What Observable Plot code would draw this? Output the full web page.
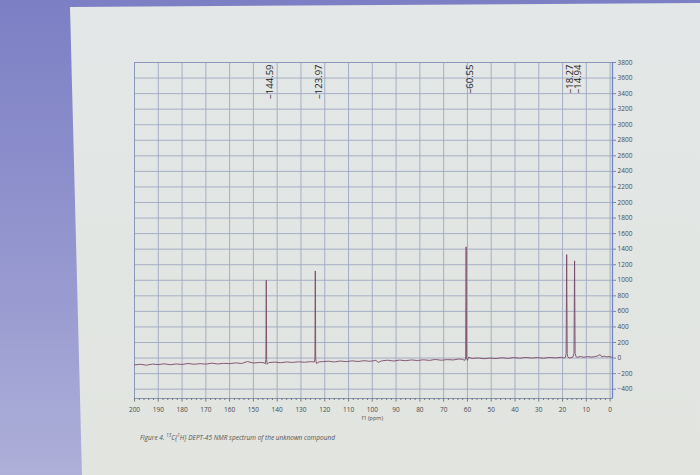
<!DOCTYPE html>
<html>
<head>
<meta charset="utf-8">
<script src="https://cdn.jsdelivr.net/npm/d3@7"></script>
<script src="https://cdn.jsdelivr.net/npm/@observablehq/plot@0.6"></script>
<style>
  html, body { margin: 0; padding: 0; width: 700px; height: 475px; overflow: hidden; }
  body { background: linear-gradient(180deg, #e3e7e7 0%, #e1e4df 100%); position: relative; font-family: "Open Sans", sans-serif; }
  #edge { position: absolute; left: 0; top: 0; width: 700px; height: 475px;
          background: linear-gradient(180deg, #7c7fc4 0%, #9597cf 55%, #aeb0d9 100%);
          clip-path: polygon(0 0, 700px 0, 700px 3px, 70px 7px, 82px 475px, 0 475px); }
  #chart { position: absolute; left: 0; top: 0; }
  #caption { position: absolute; left: 140px; top: 432px; font-size: 6.5px; font-style: italic; color: #555; font-family: "Open Sans", sans-serif; }
</style>
</head>
<body>
<div id="edge"></div>
<div id="chart"></div>
<div id="caption">Figure 4. <sup style="font-size:4.5px">13</sup>C{<sup style="font-size:4.5px">1</sup>H} DEPT-45 NMR spectrum of the unknown compound</div>
<script>
// x tick labels (ppm), minor ticks, y tick labels
const xTicks = [200, 190, 180, 170, 160, 150, 140, 130, 120, 110, 100, 90, 80, 70, 60, 50, 40, 30, 20, 10, 0];
const xMinor = [198,196,194,192,188,186,184,182,178,176,174,172,168,166,164,162,158,156,154,152,148,146,144,142,138,136,134,132,128,126,124,122,118,116,114,112,108,106,104,102,98,96,94,92,88,86,84,82,78,76,74,72,68,66,64,62,58,56,54,52,48,46,44,42,38,36,34,32,28,26,24,22,18,16,14,12,8,6,4,2];
const yTicks = [-400, -200, 0, 200, 400, 600, 800, 1000, 1200, 1400, 1600, 1800, 2000, 2200, 2400, 2600, 2800, 3000, 3200, 3400, 3600, 3800];

// labelled peaks
const peakShifts = [144.59, 123.97, 60.55, 18.27, 14.94];

// spectrum trace: chemical shift (ppm) and intensity
const shift = [200,197.5,195,192.5,190,187.5,185,182.5,180,177.5,175,172.5,170,167.5,165,162.5,160,157.5,155,152.5,150,147.5,145.5,145.0,144.75,144.59,144.43,144.2,143.5,141,138.5,136,133.5,131,128.5,126,124.4,124.13,123.97,123.81,123.5,122.5,121,118.5,116,113.5,111,108.5,106,103.5,101,98.5,97.5,96,93.5,91,88.5,86,83.5,81,78.5,76,73.5,71,68.5,66,63.5,62,61.1,60.75,60.55,60.35,60.0,59.5,58,55.5,53,50.5,48,45.5,43,40.5,38,35.5,33,30.5,28,25.5,23,20.5,19.5,18.8,18.5,18.27,18.05,17.8,17.2,16.5,15.7,15.2,14.94,14.72,14.4,13.8,12.5,11,9.5,8,6.5,5,4.2,3.5,2.5,1.5,0.5,-0.5,-1];
const intensity = [-88,-80,-92,-78,-84,-74,-86,-76,-82,-70,-80,-72,-78,-66,-76,-68,-72,-62,-70,-45,-64,-56,-60,-75,-20,1000,-20,-80,-58,-52,-60,-50,-56,-48,-54,-46,-50,-10,1120,-10,-70,-50,-46,-40,-50,-38,-46,-36,-44,-34,-42,-30,-55,-36,-28,-38,-26,-34,-24,-32,-22,-30,-18,-28,-20,-24,-12,-18,-30,0,1430,0,-30,10,-5,2,-8,0,-6,4,-4,6,-2,8,0,6,-2,8,2,10,0,10,60,1330,60,15,0,5,10,60,1250,60,20,10,20,10,20,12,18,30,45,15,25,15,20,10,15];

const spectrum = shift.map((s, i) => ({ppm: s, value: intensity[i]}));
const peaks = peakShifts.map(p => ({ppm: p, label: "\u2013" + p.toFixed(2)}));

const gridColor = "#9ea8c2";

const chart = Plot.plot({
  width: 700,
  height: 432,
  marginLeft: 134,
  marginRight: 88,
  marginTop: 62,
  marginBottom: 34,
  style: { background: "transparent", fontFamily: "Open Sans, sans-serif", color: "#4a4a4a" },
  x: { domain: [200, -1] },
  y: { domain: [-520, 3800] },
  marks: [
    Plot.ruleX(xTicks, { stroke: gridColor, strokeWidth: 0.9 }),
    Plot.ruleY(yTicks, { stroke: gridColor, strokeWidth: 0.9 }),
    Plot.frame({ stroke: "#8a97b8", strokeWidth: 1 }),
    Plot.ruleX([-1], { stroke: "#6f86c4", strokeWidth: 1.3 }),
    Plot.axisX({ ticks: xMinor, tickSize: 2, text: null, label: null, stroke: "#777" }),
    Plot.axisX({ ticks: xTicks, tickSize: 3.5, tickPadding: 5, fontSize: 6.5, label: null, tickFormat: d3.format("d"), stroke: "#777", fill: "#4a4a4a" }),
    Plot.text(["f1 (ppm)"], { x: 100, frameAnchor: "bottom", dy: 21, fontSize: 5.5, fill: "#4a4a4a" }),
    Plot.axisY({ anchor: "right", ticks: yTicks, tickSize: 3, tickPadding: 2, fontSize: 6.5, label: null, tickFormat: d3.format("d"), stroke: "#6f86c4", fill: "#4a4a4a" }),
    Plot.line(spectrum, { x: "ppm", y: "value", stroke: "#7d4a66", strokeWidth: 0.9, curve: "linear" }),
    Plot.text(peaks, { x: "ppm", frameAnchor: "top", dy: 2, rotate: -90, textAnchor: "end", text: "label", fontSize: 9.5, fill: "#222" })
  ]
});
document.getElementById("chart").append(chart);
</script>
</body>
</html>
